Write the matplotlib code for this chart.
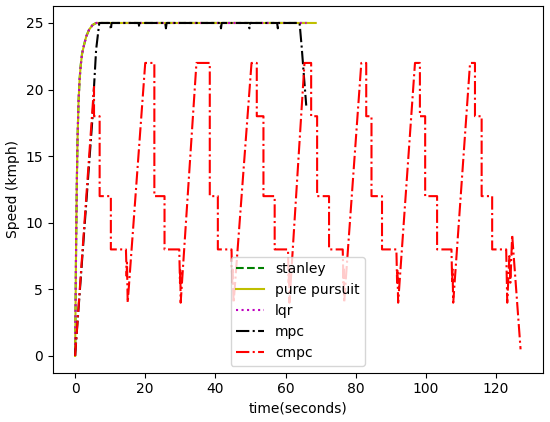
import numpy as np
import matplotlib
matplotlib.use("Agg")
import matplotlib.pyplot as plt

# fast controllers: quick rise to 25 kmph, then hold
stanley_t = [0, 0.15, 0.3, 0.5, 0.7, 1.0, 1.3, 1.6, 2.0, 2.6, 3.2, 4.0, 5.0, 6.0, 66.5]
stanley_v = [0, 4, 8.5, 13, 16.3, 19.2, 20.8, 21.8, 22.7, 23.4, 24.0, 24.5, 24.85, 25.0, 25.0]
pp_t = [0, 0.15, 0.3, 0.5, 0.7, 1.0, 1.3, 1.6, 2.0, 2.6, 3.2, 4.0, 5.0, 6.0, 68.6]
pp_v = [0, 4, 8.5, 13, 16.3, 19.2, 20.8, 21.8, 22.7, 23.4, 24.0, 24.5, 24.85, 25.0, 25.0]
lqr_t = [0, 0.15, 0.3, 0.5, 0.7, 1.0, 1.3, 1.6, 2.0, 2.6, 3.2, 4.0, 5.0, 6.0, 66.0]
lqr_v = [0, 4, 8.5, 13, 16.3, 19.2, 20.8, 21.8, 22.7, 23.4, 24.0, 24.5, 24.85, 25.0, 25.0]

mpc_t = [0, 1, 2, 3, 4, 5, 5.4, 6.0, 6.9, 10.0, 10.2, 10.4, 18.1, 18.3, 18.5,
         25.7, 25.9, 26.1, 41.4, 41.6, 41.8, 49.5, 49.7, 49.9, 57.6, 57.8, 58.0,
         64.0, 64.6, 65.3, 65.9]
mpc_v = [0, 3.6, 7.2, 10.8, 14.4, 18.0, 20.2, 23.0, 25.0, 25.0, 24.5, 25.0, 25.0, 24.7, 25.0,
         25.0, 24.6, 25.0, 25.0, 24.6, 25.0, 25.0, 24.6, 25.0, 25.0, 24.6, 25.0,
         25.0, 23.2, 20.8, 18.8]

cmpc_t = [0, 5.4, 5.4, 7.0, 7.0, 10.2, 10.2, 14.5, 14.7, 14.8, 15.0,
          20.0, 22.6, 22.6, 25.5, 25.5, 29.7, 29.9, 30.0, 30.1,
          34.6, 38.4, 38.4, 40.7, 40.7, 44.6, 44.8, 44.9, 45.2,
          50.3, 51.8, 51.8, 53.7, 53.7, 56.9, 56.9, 60.7, 60.9, 61.0, 61.1,
          65.4, 67.3, 67.3, 69.0, 69.0, 72.4, 72.4, 76.3, 76.5, 76.6, 76.7,
          81.6, 83.0, 83.0, 84.5, 84.5, 87.5, 87.5, 91.6, 91.8, 91.9, 92.1,
          96.9, 98.3, 98.3, 99.8, 99.8, 103.2, 103.2, 107.3, 107.5, 107.6, 107.8,
          112.6, 114.0, 114.0, 115.9, 115.9, 118.9, 118.9, 122.9, 123.2,
          123.8, 124.1, 124.6, 127.0]
cmpc_v = [0, 20.2, 18, 18, 12, 12, 8, 8, 6, 7, 4,
          22, 22, 12, 12, 8, 8, 5.5, 6.5, 4,
          22, 22, 12, 12, 8, 8, 5.5, 6.5, 4,
          22, 22, 18, 18, 12, 12, 8, 8, 5.5, 6.5, 4,
          22, 22, 18, 18, 12, 12, 8, 8, 5.5, 6.5, 4,
          22, 22, 18, 18, 12, 12, 8, 8, 5.5, 6.5, 4,
          22, 22, 18, 18, 12, 12, 8, 8, 5.5, 6.5, 4,
          22, 22, 18, 18, 12, 12, 8, 8, 4,
          7.5, 5.5, 9.1, 0.5]

fig, ax = plt.subplots(figsize=(5.5, 4.22), dpi=100)
fig.subplots_adjust(left=0.096, right=0.987, top=0.985, bottom=0.117)

ax.plot(stanley_t, stanley_v, 'g--', label='stanley')
ax.plot(pp_t, pp_v, 'y-', label='pure pursuit')
ax.plot(lqr_t, lqr_v, 'm:', label='lqr')
ax.plot(mpc_t, mpc_v, 'k-.', label='mpc')
ax.plot(cmpc_t, cmpc_v, 'r-.', label='cmpc')

ax.set_xlabel('time(seconds)')
ax.set_ylabel('Speed (kmph)')
ax.legend(loc='lower center')

fig.savefig('out.png')
